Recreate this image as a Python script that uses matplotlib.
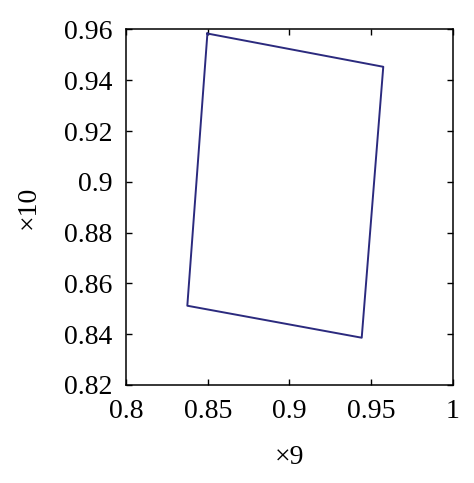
import numpy as np
import matplotlib
matplotlib.use("Agg")
import matplotlib.pyplot as plt

# polygon corners (closed)
xs = [0.8498, 0.9575, 0.9443, 0.8375, 0.8498]
ys = [0.9584, 0.9453, 0.8386, 0.8512, 0.9584]

xticks = [0.8, 0.85, 0.9, 0.95, 1]
xticklabels = ["0.8", "0.85", "0.9", "0.95", "1"]
yticks = [0.82, 0.84, 0.86, 0.88, 0.9, 0.92, 0.94, 0.96]
yticklabels = ["0.82", "0.84", "0.86", "0.88", "0.9", "0.92", "0.94", "0.96"]

plt.rcParams['font.family'] = ['Liberation Serif', 'DejaVu Serif']

fig = plt.figure(figsize=(4.74, 4.83), dpi=100)
ax = fig.add_axes([0.266, 0.203, 0.689, 0.736])

ax.plot(xs, ys, color='#2b2a7e', lw=1.4)

ax.set_xlim(0.8, 1)
ax.set_ylim(0.82, 0.96)
ax.set_xticks(xticks)
ax.set_xticklabels(xticklabels)
ax.set_yticks(yticks)
ax.set_yticklabels(yticklabels)
ax.tick_params(direction='in', top=True, right=True, labelsize=20, length=4, width=1)
ax.tick_params(axis='x', pad=10)
ax.tick_params(axis='y', pad=10)
for s in ax.spines.values():
    s.set_linewidth(1.1)

ax.set_xlabel('×9', fontsize=20, va='center')
ax.set_ylabel('×10', fontsize=20, va='center')
ax.xaxis.set_label_coords(0.5, -0.205)
ax.yaxis.set_label_coords(-0.30, 0.5)

fig.savefig('out.png', dpi=100)
